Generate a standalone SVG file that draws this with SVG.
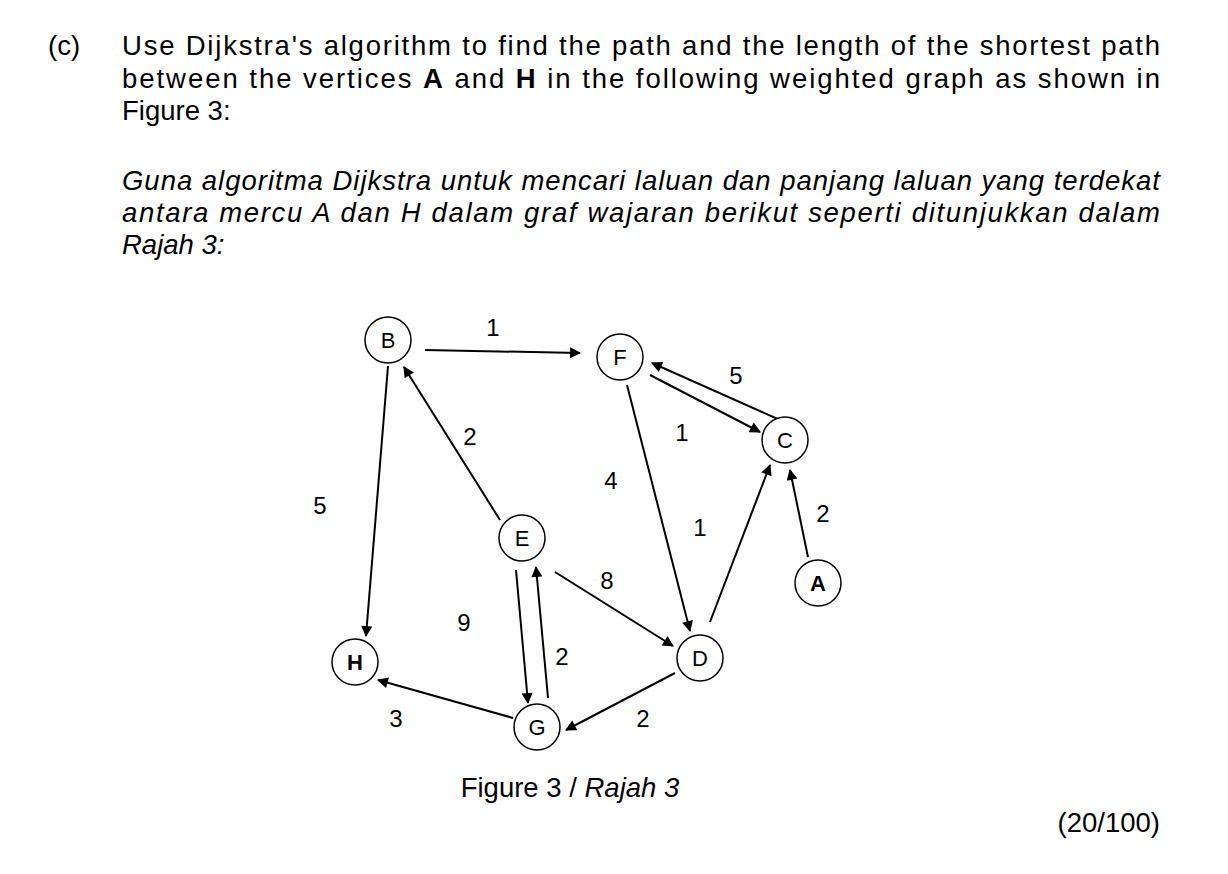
<svg xmlns="http://www.w3.org/2000/svg" width="1228" height="874" viewBox="0 0 1228 874">
<style>
text{font-family:"Liberation Sans",Arial,sans-serif;fill:#000}
.t{font-size:27.5px}
.i{font-style:italic}
.n{font-size:22px;text-anchor:middle}
.w{font-size:24px;text-anchor:middle}
circle{fill:#fff;stroke:#000;stroke-width:1.5}
line{stroke:#000;stroke-width:2;marker-end:url(#ah)}
</style>
<defs><marker id="ah" viewBox="0 0 10 10" refX="9" refY="5" markerWidth="13" markerHeight="11" markerUnits="userSpaceOnUse" orient="auto"><path d="M0,0L10,5L0,10z"/></marker></defs>
<rect width="1228" height="874" fill="#fff"/>
<g id="text">
<text class="t" x="48" y="55">(c)</text>
<text class="t" x="122" y="55" textLength="1038" lengthAdjust="spacing">Use Dijkstra's algorithm to find the path and the length of the shortest path</text>
<text class="t" x="122" y="88" textLength="1038" lengthAdjust="spacing">between the vertices <tspan font-weight="bold">A</tspan> and <tspan font-weight="bold">H</tspan> in the following weighted graph as shown in</text>
<text class="t" x="122" y="120">Figure 3:</text>
<text class="t i" x="122" y="190" textLength="1038" lengthAdjust="spacing">Guna algoritma Dijkstra untuk mencari laluan dan panjang laluan yang terdekat</text>
<text class="t i" x="122" y="222" textLength="1038" lengthAdjust="spacing">antara mercu A dan H dalam graf wajaran berikut seperti ditunjukkan dalam</text>
<text class="t i" x="122" y="254">Rajah 3:</text>
<text class="t" x="570" y="797" text-anchor="middle">Figure 3 / <tspan font-style="italic">Rajah 3</tspan></text>
<text class="t" x="1160" y="832" text-anchor="end">(20/100)</text>
</g>
<g id="connectors">
<line x1="425" y1="350" x2="580" y2="353"/>
<line x1="650" y1="375" x2="760" y2="432"/>
<line x1="780" y1="420" x2="652" y2="363"/>
<line x1="388" y1="366" x2="366" y2="636"/>
<line x1="500" y1="520" x2="404" y2="367"/>
<line x1="627" y1="385" x2="690" y2="631"/>
<line x1="710" y1="622" x2="770" y2="465"/>
<line x1="808" y1="557" x2="790" y2="470"/>
<line x1="555" y1="572" x2="673" y2="646"/>
<line x1="516" y1="570" x2="528" y2="703"/>
<line x1="548" y1="698" x2="536" y2="567"/>
<line x1="513" y1="718" x2="378" y2="680"/>
<line x1="675" y1="673" x2="566" y2="730"/>
<text class="w" x="493" y="336">1</text>
<text class="w" x="736" y="384">5</text>
<text class="w" x="470" y="445">2</text>
<text class="w" x="682" y="441">1</text>
<text class="w" x="611" y="489">4</text>
<text class="w" x="320" y="514">5</text>
<text class="w" x="823" y="522">2</text>
<text class="w" x="700" y="536">1</text>
<text class="w" x="607" y="589">8</text>
<text class="w" x="464" y="631">9</text>
<text class="w" x="562" y="665">2</text>
<text class="w" x="396" y="727">3</text>
<text class="w" x="643" y="727">2</text>
</g>
<g id="B"><circle cx="388" cy="340" r="23"/><text class="n" x="388" y="348">B</text></g>
<g id="F"><circle cx="620" cy="357" r="23"/><text class="n" x="620" y="365">F</text></g>
<g id="C"><circle cx="785" cy="440" r="23"/><text class="n" x="785" y="448">C</text></g>
<g id="E"><circle cx="522" cy="538" r="23"/><text class="n" x="522" y="546">E</text></g>
<g id="A"><circle cx="818" cy="583" r="23"/><text class="n" x="818" y="591" font-weight="bold">A</text></g>
<g id="H"><circle cx="355" cy="662" r="23"/><text class="n" x="355" y="670" font-weight="bold">H</text></g>
<g id="D"><circle cx="700" cy="658" r="23"/><text class="n" x="700" y="666">D</text></g>
<g id="G"><circle cx="537" cy="727" r="23"/><text class="n" x="537" y="735">G</text></g>
</svg>
